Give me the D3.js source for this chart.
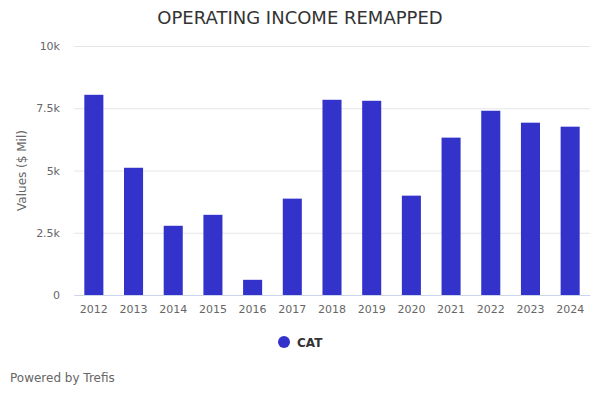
<!DOCTYPE html>
<html>
<head>
<meta charset="utf-8">
<script src="https://cdn.jsdelivr.net/npm/d3@7"></script>
<style>
  body { margin: 0; background: #fff; }
  svg { font-family: "DejaVu Sans", sans-serif; display: block; }
</style>
</head>
<body>
<div id="chart"></div>
<script>
// Daten
const years = ["2012", "2013", "2014", "2015", "2016", "2017", "2018", "2019", "2020", "2021", "2022", "2023", "2024"];
const catValues = [8040, 5110, 2780, 3220, 610, 3870, 7840, 7800, 3990, 6320, 7400, 6920, 6760];
const yTicks = [0, 2500, 5000, 7500, 10000];
const yTickLabels = ["0", "2.5k", "5k", "7.5k", "10k"];

const W = 600, H = 400;
const margin = {top: 46, right: 10, bottom: 105, left: 74};
const width = 590 - margin.left;
const height = 295 - margin.top;

const svg = d3.select("#chart").append("svg")
    .attr("width", W)
    .attr("height", H);

// Titel
svg.append("text")
    .attr("x", W / 2)
    .attr("y", 24)
    .attr("text-anchor", "middle")
    .attr("fill", "#333")
    .attr("font-size", "18px")
    .text("OPERATING INCOME REMAPPED");

const g = svg.append("g")
    .attr("transform", `translate(${margin.left},${margin.top})`);

const x = d3.scaleBand()
    .domain(years)
    .range([0, width])
    .paddingInner(0.52)
    .paddingOuter(0.26);

const y = d3.scaleLinear()
    .domain([0, 10000])
    .range([height, 0]);

// Gitterlinien
g.append("g")
    .call(d3.axisLeft(y).tickValues(yTicks).tickSize(-width).tickFormat((d, i) => yTickLabels[i]))
    .call(a => a.select(".domain").remove())
    .call(a => a.selectAll(".tick line").attr("stroke", "#e6e6e6"))
    .call(a => a.selectAll(".tick text")
        .attr("x", -14)
        .attr("fill", "#666")
        .attr("font-size", "11px")
        .attr("font-family", "DejaVu Sans, sans-serif"));

// Balken
g.selectAll(".bar")
    .data(years.map((yr, i) => ({year: yr, value: catValues[i]})))
    .join("rect")
    .attr("class", "bar")
    .attr("x", d => x(d.year))
    .attr("y", d => y(d.value))
    .attr("width", x.bandwidth())
    .attr("height", d => height - y(d.value))
    .attr("fill", "#3333cc");

// X-Achse
g.append("g")
    .attr("transform", `translate(0,${height})`)
    .call(d3.axisBottom(x).tickSize(0))
    .call(a => a.select(".domain").attr("stroke", "#ccd6eb"))
    .call(a => a.selectAll(".tick text")
        .attr("dy", "1.4em")
        .attr("fill", "#666")
        .attr("font-size", "11px")
        .attr("font-family", "DejaVu Sans, sans-serif"));

// Y-Achsentitel
svg.append("text")
    .attr("transform", `translate(26,${margin.top + height / 2}) rotate(-90)`)
    .attr("text-anchor", "middle")
    .attr("fill", "#666")
    .attr("font-size", "12px")
    .text("Values ($ Mil)");

// Legende
const legend = svg.append("g").attr("transform", "translate(284,342)");
legend.append("circle").attr("r", 6).attr("fill", "#3333cc");
legend.append("text")
    .attr("x", 13)
    .attr("y", 5)
    .attr("fill", "#333")
    .attr("font-size", "12px")
    .attr("font-weight", "bold")
    .text("CAT");

// Quelle
svg.append("text")
    .attr("x", 10)
    .attr("y", 382)
    .attr("fill", "#666")
    .attr("font-size", "12px")
    .text("Powered by Trefis");
</script>
</body>
</html>
